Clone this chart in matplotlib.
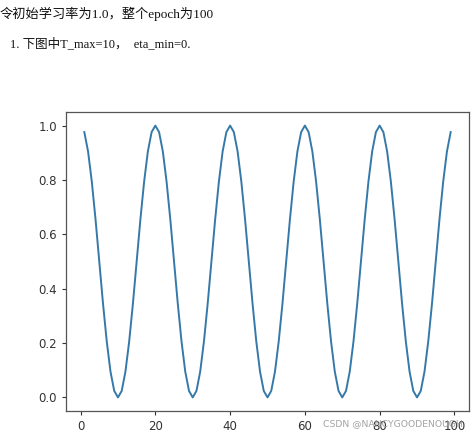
import matplotlib
matplotlib.use("Agg")
import matplotlib.pyplot as plt

plt.rcParams['font.family'] = ['Noto Sans CJK SC', 'DejaVu Sans']

# Data (cosine annealing LR, epochs 1..99)
epochs = list(range(1, 100))
one_cycle = [0.976, 0.905, 0.794, 0.655, 0.500, 0.345, 0.206, 0.095, 0.024, 0.000,
             0.024, 0.095, 0.206, 0.345, 0.500, 0.655, 0.794, 0.905, 0.976, 1.000]
lr_values = (one_cycle * 5)[:99]
y_ticks = [0.0, 0.2, 0.4, 0.6, 0.8, 1.0]
x_ticks = [0, 20, 40, 60, 80, 100]

title_line1 = "令初始学习率为1.0，整个epoch为100"
title_line2 = "1. 下图中T_max=10，  eta_min=0."
watermark = "CSDN @NANCYGOODENOUGH"

fig = plt.figure(figsize=(4.74, 4.34), dpi=100)
fig.patch.set_facecolor('white')

title_fam = ['Liberation Serif', 'Noto Sans CJK SC']
fig.text(0.0, 1 - 14 / 434, title_line1, fontsize=9.5, color='#111111', va='center', ha='left',
         family=title_fam)
fig.text(10 / 474, 1 - 44 / 434, title_line2, fontsize=9, color='#111111', va='center', ha='left',
         family=title_fam)

ax = fig.add_axes([66 / 474, 1 - 411 / 434, (469 - 66) / 474, (411 - 112) / 434])
ax.plot(epochs, lr_values, color='#3579a8', linewidth=1.4)
ax.set_xticks(x_ticks)
ax.set_yticks(y_ticks)
ax.set_xticklabels([str(t) for t in x_ticks], family='DejaVu Sans')
ax.set_yticklabels([f"{t:.1f}" for t in y_ticks], family='DejaVu Sans')
ax.tick_params(labelsize=8.5, colors='#333333', length=3, width=0.8)
for s in ax.spines.values():
    s.set_color('#555555')
    s.set_linewidth(0.9)

fig.text(323 / 474, 1 - 424 / 434, watermark, fontsize=6.7, color='#9a9a9a', va='center', ha='left',
         family=['DejaVu Sans'], alpha=0.9)

fig.savefig("out.png", dpi=100, facecolor='white')
